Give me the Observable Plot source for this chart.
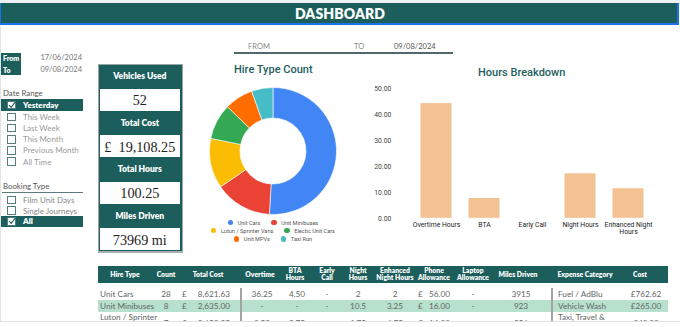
<!DOCTYPE html>
<html><head><meta charset="utf-8">
<script src="https://cdn.jsdelivr.net/npm/d3@7"></script>
<script src="https://cdn.jsdelivr.net/npm/@observablehq/plot@0.6"></script>
<style>
body{margin:0;background:#fff;font-family:Lato,"Open Sans",sans-serif;}
#page{position:relative;width:680px;height:327px;overflow:hidden;background:#fff;}
.a{position:absolute;white-space:nowrap;}
.cb{position:absolute;width:6.5px;height:6.5px;border:1.3px solid #557d7d;background:#fff;}
</style></head><body><div id="page"></div>
<script>
// ---------- data ----------
const hireTypes = ["Unit Cars","Unit Minibuses","Luton / Sprinter Vans","Electic Unit Cars","Unit MPVs","Taxi Run"];
const hireCounts = [28, 8, 7, 5, 4, 3];
const hireColors = ["#4285F4","#EA4335","#FBBC04","#34A853","#FF6D01","#46BDC6"];

const hourCategories = ["Overtime Hours","BTA","Early Call","Night Hours","Enhanced Night Hours"];
const hourValues = [44.5, 8, 0, 17.5, 11.75];
const hourTicks = [0, 10, 20, 30, 40, 50];

const kpiLabels = ["Vehicles Used","Total Cost","Total Hours","Miles Driven"];
const kpiValues = ["52","£\u00a0\u00a019,108.25","100.25","73969 mi"];

const dateFrom = "17/06/2024", dateTo = "09/08/2024";
const dateRangeOptions = ["Yesterday","This Week","Last Week","This Month","Previous Month","All Time"];
const dateRangeChecked = [true,false,false,false,false,false];
const bookingTypeOptions = ["Film Unit Days","Single Journeys","All"];
const bookingTypeChecked = [false,false,true];

const tableHeaders = [["Hire Type"],["Count"],["Total Cost"],["Overtime"],["BTA","Hours"],["Early","Call"],["Night","Hours"],["Enhanced","Night Hours"],["Phone","Allowance"],["Laptop","Allowance"],["Miles Driven"],["Expense Category"],["Cost"]];
const tableRows = [
  ["Unit Cars","28","8,621.63","36.25","4.50","-","2","2","56.00","-","3915","Fuel / AdBlu","£762.62"],
  ["Unit Minibuses","8","2,635.00","-","-","-","10.5","3.25","16.00","-","923","Vehicle Wash","£265.00"],
  ["Luton / Sprinter","7","2,650.25","0.50","2.75","","1.75","6.75","14.00","-","256","Taxi, Travel &","£40.00"]
];

// ---------- layout helpers ----------
const page = document.getElementById("page");
function box(x,y,w,h,style={}){const d=document.createElement("div");d.className="a";Object.assign(d.style,{left:x+"px",top:y+"px",width:w+"px",height:h+"px"},style);page.appendChild(d);return d;}
function txt(s,x,yc,align="left",style={},lh=12){
  const d=document.createElement("div");d.className="a";
  const h=lh*(String(s).split("\n").length);
  let left=x,w=300;
  if(align==="center"){left=x-150;} else if(align==="right"){left=x-300;}
  Object.assign(d.style,{left:left+"px",top:(yc-h/2)+"px",width:w+"px",lineHeight:lh+"px",textAlign:align,fontSize:"8px",color:"#666"},style);
  d.innerHTML=String(s).split("\n").join("<br>");
  page.appendChild(d);return d;
}
function checkbox(x,y,checked){
  const c=box(x,y,6.5,6.5);c.className="cb";
  if(checked){c.innerHTML='<svg width="8" height="8" style="position:absolute;left:-0.5px;top:-1px"><path d="M1 4.2 L3.2 6.4 L7.2 1" fill="none" stroke="#1b5e5b" stroke-width="1.2"/></svg>';}
}
const TEAL="#1b5e5b";

// ---------- spreadsheet chrome ----------
box(0,0,680,3,{background:"#eef1f4",borderBottom:"1px solid #d5dbe3"});
box(0,3,676,20,{background:TEAL,borderBottom:"2px solid #1a73e8",borderRight:"2px solid #1a73e8",borderLeft:"1px solid #1a73e8"});
txt("DASHBOARD",340,13.5,"center",{fontSize:"14px",fontWeight:"800",color:"#fff",letterSpacing:"0.1px"},16);
box(0,26,1,295,{background:"#e3e3e3"});

// ---------- FROM / TO strip ----------
txt("FROM",248,46.5,"left",{fontSize:"7.5px",color:"#8a8a8a"});
txt("TO",354,46.5,"left",{fontSize:"7.5px",color:"#8a8a8a"});
txt(dateTo,394,46.5,"left",{fontSize:"7.5px",color:"#555"});
box(234,52,219,1.5,{background:"#4d6b6b"});

// ---------- left filters ----------
box(1,53,20,22,{background:TEAL});
txt("From",3,58.3,"left",{fontSize:"7px",fontWeight:"800",color:"#fff"});
txt("To",3,69.5,"left",{fontSize:"7px",fontWeight:"800",color:"#fff"});
txt(dateFrom,82,58.3,"right",{fontSize:"7.5px",color:"#777"});
txt(dateTo,82,70,"right",{fontSize:"7.5px",color:"#777"});

txt("Date Range",3,92.5,"left",{fontSize:"7.8px",color:"#555"});
const drY=[105,116.7,128,139.2,150.3,161.6];
dateRangeOptions.forEach((o,i)=>{
  if(dateRangeChecked[i]){box(1,99,82,12,{background:TEAL});}
  checkbox(7,drY[i]-4.2,dateRangeChecked[i]);
  txt(o,23,drY[i],"left",dateRangeChecked[i]?{fontSize:"8px",fontWeight:"800",color:"#fff"}:{fontSize:"8px",color:"#9a9a9a"});
});

txt("Booking Type",3,186,"left",{fontSize:"7.8px",color:"#555"});
box(2,192,81,1.3,{background:"#5d7a7a"});
const btY=[199.8,210.6,221.4];
bookingTypeOptions.forEach((o,i)=>{
  if(bookingTypeChecked[i]){box(1,216,82,11,{background:TEAL});}
  checkbox(7,btY[i]-4.2,bookingTypeChecked[i]);
  txt(o,23,btY[i],"left",bookingTypeChecked[i]?{fontSize:"8px",fontWeight:"800",color:"#fff"}:{fontSize:"8px",color:"#888"});
});

// ---------- KPI cards ----------
box(97.5,64,83.5,185.5,{background:TEAL,border:"1px solid #9aa6a6",borderBottom:"2px solid #a9b1b1"});
const cellH=23.3;
kpiLabels.forEach((l,i)=>{
  const y0=64.5+i*2*cellH;
  txt(l,139.8,y0+cellH/2,"center",{fontSize:"8.5px",fontWeight:"800",color:"#fff"});
  box(99.5,y0+cellH+0.8,80.5,cellH-1.3,{background:"#fff"});
  txt(kpiValues[i],139.8,y0+cellH*1.5+0.5,"center",{fontFamily:"'Liberation Serif',serif",fontSize:"14.2px",color:"#222"},16);
});

// ---------- donut: Hire Type Count ----------
txt("Hire Type Count",234,69.5,"left",{fontFamily:"Roboto",fontWeight:"500",fontSize:"11px",color:"#22605e"},14);
const colorScale = Plot.scale({color:{type:"ordinal",domain:hireTypes,range:hireColors}});
const hireData = hireTypes.map((t,i)=>({type:t,count:hireCounts[i]}));
const DW=140, DH=130;
const donut = Plot.plot({
  width:DW,height:DH,margin:0,
  style:{background:"transparent",overflow:"visible"},
  marks:[
    () => {
      const g=d3.create("svg:g").attr("transform",`translate(${DW/2},${DH/2})`);
      const arcs=d3.pie().sort(null).value(d=>d.count)(hireData);
      const arc=d3.arc().innerRadius(33).outerRadius(63.5);
      g.selectAll("path").data(arcs).join("path")
        .attr("d",arc).attr("fill",d=>colorScale.apply(d.data.type))
        .attr("stroke","#fff").attr("stroke-width",0.6);
      return g.node();
    }
  ]
});
const dwrap=box(273-DW/2,150.7-DH/2,DW,DH);dwrap.appendChild(donut);

// legend (2 per row)
const legRowsY=[222.7,230.8,239];
for(let r=0;r<3;r++){
  const row=document.createElement("div");row.className="a";
  Object.assign(row.style,{left:"173px",width:"200px",top:(legRowsY[r]-5)+"px",height:"10px",display:"flex",justifyContent:"center",alignItems:"center",fontFamily:"Roboto",fontSize:"5.6px",color:"#555"});
  for(let k=0;k<2;k++){
    const i=r*2+k;
    const it=document.createElement("span");
    it.style.display="flex";it.style.alignItems="center";it.style.margin="0 5.5px";
    it.innerHTML=`<span style="display:inline-block;width:5.4px;height:5.4px;border-radius:50%;background:${colorScale.apply(hireTypes[i])};margin-right:4.5px"></span>${hireTypes[i]}`;
    row.appendChild(it);
  }
  page.appendChild(row);
}

// ---------- bar chart: Hours Breakdown ----------
txt("Hours Breakdown",521.7,73,"center",{fontFamily:"Roboto",fontWeight:"500",fontSize:"11px",color:"#22605e"},14);
const hoursData = hourCategories.map((c,i)=>({category:c,hours:hourValues[i]}));
const bars = Plot.plot({
  width:320,height:165,
  marginLeft:52.8,marginRight:8.6,marginTop:8.3,marginBottom:26.7,
  style:{fontFamily:"Roboto",fontSize:"6.8px",background:"transparent",overflow:"visible"},
  x:{domain:hourCategories,padding:0.34,label:null},
  y:{domain:[0,50],label:null},
  marks:[
    Plot.barY(hoursData,{x:"category",y:"hours",fill:"#F3C292",stroke:"#fff",strokeWidth:1}),
    Plot.axisY(hourTicks,{tickSize:0,tickPadding:12,tickFormat:d=>d.toFixed(2),fill:"#444",label:null}),
    Plot.axisX({tickSize:0,tickPadding:3.2,tickFormat:d=>d==="Enhanced Night Hours"?"Enhanced Night\nHours":d,fill:"#222",label:null,lineHeight:1})
  ]
});
const bwrap=box(350,80,320,165);bwrap.appendChild(bars);

// ---------- table ----------
box(97.5,265.5,570.5,17.5,{background:TEAL});
const headCenters=[125,166,208,260,295,327,358,395,434,473,518,585,640];
tableHeaders.forEach((h,i)=>{
  txt(h.join("\n"),headCenters[i],274.3,"center",{fontSize:"6.8px",fontWeight:"800",color:"#fff"},h.length>1?7.8:10);
});
box(97.5,300,570.5,11.7,{background:"#b7e1cd"});
box(240.3,288,1.6,33,{background:"#a3a3a3"});
box(551,288,1.6,33,{background:"#a3a3a3"});
const rowY=[294.3,306,323.3];
const firstLineY=[294.3,306,317.2];
tableRows.forEach((r,ri)=>{
  const y=rowY[ri], y1=firstLineY[ri];
  const st={fontSize:"8.2px",color:"#666"};
  txt(r[0],100,y1,"left",st);
  txt(r[1],166,y,"center",st);
  txt("£",182,y,"left",st); txt(r[2],230,y,"right",st);
  txt(r[3],262,y,"center",st);
  txt(r[4],297,y,"center",st);
  txt(r[5],327,y,"center",st);
  txt(r[6],358,y,"center",st);
  txt(r[7],395,y,"center",st);
  txt("£",418,y,"left",st); txt(r[8],450,y,"right",st);
  txt(r[9],473,y,"center",st);
  txt(r[10],521,y,"center",st);
  txt(r[11],558,y1,"left",st);
  txt(r[12],646,y,"center",st);
});
box(0,321,680,6,{background:"#fff",borderTop:"1px solid #e2e2e2"});
</script></body></html>
